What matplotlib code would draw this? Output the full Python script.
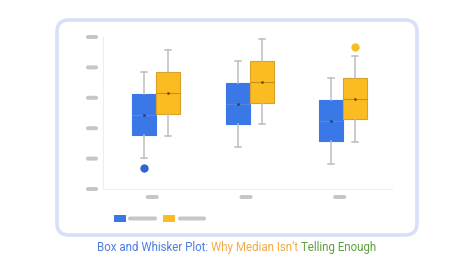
import matplotlib
matplotlib.use('Agg')
import matplotlib.pyplot as plt
from matplotlib.patches import FancyBboxPatch, Rectangle
import matplotlib.transforms as mtransforms

# box stats (placeholder y scale 0..5)
groups = ['A', 'B', 'C']
blue_q1 = [1.78, 2.14, 1.57]
blue_med = [2.43, 2.80, 2.24]
blue_q3 = [3.12, 3.48, 2.92]
blue_lo = [1.03, 1.39, 0.83]
blue_hi = [3.84, 4.21, 3.66]
blue_fliers = [[0.68], [], []]

orange_q1 = [2.48, 2.84, 2.29]
orange_med = [3.15, 3.52, 2.96]
orange_q3 = [3.84, 4.21, 3.65]
orange_lo = [1.75, 2.13, 1.56]
orange_hi = [4.57, 4.93, 4.37]
orange_fliers = [[], [], [4.66]]

yticks = [0, 1, 2, 3, 4, 5]

BLUE = '#3b78e7'
ORANGE = '#fbbc22'
W, H = 474, 271


def stats(q1, med, q3, lo, hi, fl):
    out = []
    for i in range(len(q1)):
        out.append({'q1': q1[i], 'med': med[i], 'q3': q3[i], 'whislo': lo[i],
                    'whishi': hi[i], 'fliers': fl[i], 'mean': med[i]})
    return out


fig = plt.figure(figsize=(W / 100, H / 100), dpi=100)
fig.patch.set_facecolor('white')

# card frame
card = FancyBboxPatch((57 / W, 1 - 235 / H), 360 / W, 215 / H,
                      boxstyle='round,pad=0,rounding_size=0.025',
                      transform=fig.transFigure, facecolor='white',
                      edgecolor='#d6e1f7', linewidth=2.6, mutation_aspect=W / H,
                      zorder=-5)
fig.add_artist(card)

ax = fig.add_axes([103 / W, 1 - 189 / H, 289 / W, 152 / H])
ax.set_facecolor('none')
ax.set_xlim(-0.566, 2.518)
ax.set_ylim(0, 5)

bw = 0.256
pos = list(range(len(groups)))
series = [
    (stats(blue_q1, blue_med, blue_q3, blue_lo, blue_hi, blue_fliers), BLUE, BLUE, '#5a86d8', '#24407a', '#2f66d6', -bw / 2),
    (stats(orange_q1, orange_med, orange_q3, orange_lo, orange_hi, orange_fliers), ORANGE, '#d9a02a', '#c8901a', '#7a4a10', ORANGE, bw / 2),
]
for data, color, edge, medc, meanc, flc, off in series:
    ax.bxp(data, positions=[p + off for p in pos], widths=bw, patch_artist=True,
           showmeans=True, showcaps=True,
           boxprops=dict(facecolor=color, edgecolor=edge, linewidth=0.8),
           medianprops=dict(color=medc, linewidth=0.8),
           whiskerprops=dict(color='#bdbdbd', linewidth=1.1),
           capprops=dict(color='#bdbdbd', linewidth=1.1),
           capwidths=bw * 0.25,
           meanprops=dict(marker='o', markersize=2, markerfacecolor=meanc, markeredgecolor='none'),
           flierprops=dict(marker='o', markersize=6, markerfacecolor=flc, markeredgecolor='none'))

ax.set_xticks([])
ax.set_yticks([])
for s in ['top', 'right']:
    ax.spines[s].set_visible(False)
for s in ['left', 'bottom']:
    ax.spines[s].set_color('#eeeeee')
    ax.spines[s].set_linewidth(0.8)

# grey placeholder tick labels
grey = '#c6c6c6'
ytrans = mtransforms.blended_transform_factory(ax.transAxes, ax.transData)
for t in yticks:
    xd, yd = ytrans.transform((0, t))
    fig.add_artist(FancyBboxPatch((xd - 17, yd - 2), 12, 4,
                                  boxstyle='round,pad=0,rounding_size=2',
                                  transform=None, facecolor=grey, edgecolor='none'))

xtrans = mtransforms.blended_transform_factory(ax.transData, ax.transAxes)
for p in pos:
    xd, yd = xtrans.transform((p - 0.04, 0))
    fig.add_artist(FancyBboxPatch((xd - 6.5, yd - 10), 13, 4,
                                  boxstyle='round,pad=0,rounding_size=2',
                                  transform=None, facecolor=grey, edgecolor='none'))

# legend placeholder
for x0, c in [(114, BLUE), (163, ORANGE)]:
    fig.add_artist(Rectangle((x0, H - 221.5), 12, 6.5, transform=None,
                             facecolor=c, edgecolor='none'))
for x0, w in [(128, 29), (178, 28)]:
    fig.add_artist(FancyBboxPatch((x0, H - 220.5), w, 4,
                                  boxstyle='round,pad=0,rounding_size=2',
                                  transform=None, facecolor=grey, edgecolor='none'))

# multi-colour caption
parts = [('Box and Whisker Plot: ', '#4d7de0'), ('Why Median Isn\u2019t ', '#f5aa48'),
         ('Telling Enough', '#5fa040')]
fig.canvas.draw()
r = fig.canvas.get_renderer()
texts = [fig.text(0, 0, s, color=c, fontsize=8.3, family=['Roboto', 'DejaVu Sans'],
                  transform=None, va='baseline') for s, c in parts]
widths = [t.get_window_extent(r).width for t in texts]
x = 237 - sum(widths) / 2
for t, w in zip(texts, widths):
    t.set_position((x, H - 251))
    x += w

fig.savefig('out.png', dpi=100, facecolor='white')
